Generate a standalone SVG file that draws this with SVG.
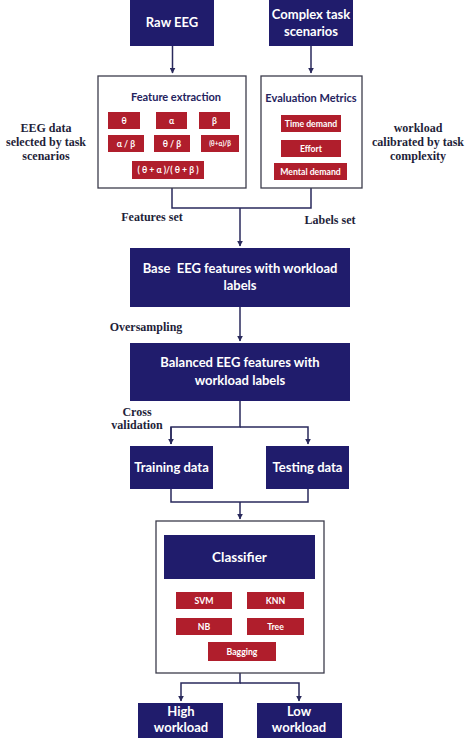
<svg xmlns="http://www.w3.org/2000/svg" width="474" height="744" viewBox="0 0 474 744">
<defs>
<marker id="ah" viewBox="0 0 10 10" refX="9" refY="5" markerWidth="6" markerHeight="6" orient="auto" markerUnits="userSpaceOnUse">
<path d="M0,0 L10,5 L0,10 z" fill="#2a2a5c"/>
</marker>
<style>
.navy{fill:#201c6c;}
.red{fill:#b01e2c;}
.frame{fill:#ffffff;stroke:#3c3c4c;stroke-width:1.3;}
.wt{font-family:Lato,"Open Sans",sans-serif;font-weight:700;fill:#ffffff;text-anchor:middle;white-space:pre;}
.big{font-size:13px;}
.sm{font-size:8.7px;}
.title{font-family:Lato,"Open Sans",sans-serif;font-weight:700;fill:#25235e;font-size:11px;text-anchor:middle;}
.side{font-family:"Liberation Serif",serif;font-weight:700;fill:#1f1f3a;font-size:12px;text-anchor:middle;}
.conn{fill:none;stroke:#2a2a5c;stroke-width:1.5;}
</style>
</defs>

<g id="connectors">
<path class="conn" d="M172.5,46 V73" marker-end="url(#ah)"/>
<path class="conn" d="M311,46 V73" marker-end="url(#ah)"/>
<path class="conn" d="M172,188 V208 H311 V188"/>
<path class="conn" d="M240,208 V246" marker-end="url(#ah)"/>
<path class="conn" d="M240,307 V341" marker-end="url(#ah)"/>
<path class="conn" d="M240,401 V427 H171 V444"/>
<path class="conn" d="M171,427 V444" marker-end="url(#ah)"/>
<path class="conn" d="M240,427 H308 V444" marker-end="url(#ah)"/>
<path class="conn" d="M171,489 V502 H308 V489"/>
<path class="conn" d="M240,502 V519" marker-end="url(#ah)"/>
<path class="conn" d="M240,673 V683 H181 V701" marker-end="url(#ah)"/>
<path class="conn" d="M240,683 H299 V701" marker-end="url(#ah)"/>
</g>

<g id="raw-eeg">
<rect class="navy" x="130" y="0" width="84" height="46"/>
<text class="wt big" x="172" y="27">Raw EEG</text>
</g>

<g id="complex-task">
<rect class="navy" x="269" y="0" width="84" height="46"/>
<text class="wt big" x="311" y="19">Complex task</text>
<text class="wt big" x="311" y="36">scenarios</text>
</g>

<g id="feature-extraction">
<rect class="frame" x="98" y="76" width="148" height="112"/>
<text class="title" x="176" y="101">Feature extraction</text>
<rect class="red" x="108" y="112" width="32" height="17"/>
<text class="wt sm" x="124" y="123.5">θ</text>
<rect class="red" x="156" y="112" width="31" height="17"/>
<text class="wt sm" x="171.5" y="123.5">α</text>
<rect class="red" x="199" y="112" width="31" height="17"/>
<text class="wt sm" x="214.5" y="123.5">β</text>
<rect class="red" x="108" y="135" width="36" height="17"/>
<text class="wt sm" x="126" y="146.5">α / β</text>
<rect class="red" x="154" y="135" width="36" height="17"/>
<text class="wt sm" x="172" y="146.5">θ / β</text>
<rect class="red" x="201" y="135" width="38" height="17"/>
<text class="wt" style="font-size:6.5px" x="220" y="146">(θ+α)/β</text>
<rect class="red" x="132" y="161" width="72" height="18"/>
<text class="wt sm" x="168" y="173">( θ + α )/( θ + β )</text>
</g>

<g id="evaluation-metrics">
<rect class="frame" x="261" y="76" width="101" height="112"/>
<text class="title" x="311" y="102">Evaluation Metrics</text>
<rect class="red" x="281" y="115" width="60" height="17"/>
<text class="wt sm" x="311" y="126.5">Time demand</text>
<rect class="red" x="281" y="140" width="60" height="17"/>
<text class="wt sm" x="311" y="151.5">Effort</text>
<rect class="red" x="274" y="163" width="73" height="17"/>
<text class="wt sm" x="310.5" y="174.5">Mental demand</text>
</g>

<g id="eeg-data-label">
<text class="side" x="46" y="132">EEG data</text>
<text class="side" x="46" y="146">selected by task</text>
<text class="side" x="46" y="160">scenarios</text>
</g>

<g id="workload-label">
<text class="side" x="418" y="132">workload</text>
<text class="side" x="418" y="146">calibrated by task</text>
<text class="side" x="418" y="160">complexity</text>
</g>

<g id="features-set-label">
<text class="side" x="152" y="221">Features set</text>
</g>
<g id="labels-set-label">
<text class="side" x="330" y="224">Labels set</text>
</g>

<g id="base-eeg">
<rect class="navy" x="130" y="248" width="220" height="59"/>
<text class="wt big" x="240" y="273" xml:space="preserve">Base  EEG features with workload</text>
<text class="wt big" x="240" y="290">labels</text>
</g>

<g id="oversampling-label">
<text class="side" x="146" y="331">Oversampling</text>
</g>

<g id="balanced-eeg">
<rect class="navy" x="130" y="343" width="220" height="58"/>
<text class="wt big" x="240" y="367">Balanced EEG features with</text>
<text class="wt big" x="240" y="385">workload labels</text>
</g>

<g id="cross-validation-label">
<text class="side" x="137" y="416">Cross</text>
<text class="side" x="137" y="429">validation</text>
</g>

<g id="training-data">
<rect class="navy" x="130" y="446" width="83" height="43"/>
<text class="wt big" x="171.5" y="472">Training data</text>
</g>

<g id="testing-data">
<rect class="navy" x="266" y="446" width="83" height="43"/>
<text class="wt big" x="307.5" y="472">Testing data</text>
</g>

<g id="classifier">
<rect class="frame" x="156" y="521" width="168" height="152"/>
<rect class="navy" x="164" y="535" width="151" height="44"/>
<text class="wt" style="font-size:13.5px" x="239.5" y="562">Classifier</text>
<rect class="red" x="176" y="592" width="56" height="17"/>
<text class="wt sm" x="204" y="603.5">SVM</text>
<rect class="red" x="247" y="592" width="57" height="17"/>
<text class="wt sm" x="275.5" y="603.5">KNN</text>
<rect class="red" x="176" y="618" width="56" height="17"/>
<text class="wt sm" x="204" y="629.5">NB</text>
<rect class="red" x="247" y="618" width="57" height="17"/>
<text class="wt sm" x="275.5" y="629.5">Tree</text>
<rect class="red" x="208" y="642" width="68" height="19"/>
<text class="wt sm" x="242" y="654.5">Bagging</text>
</g>

<g id="high-workload">
<rect class="navy" x="138" y="703" width="85" height="35"/>
<text class="wt big" x="181" y="716">High</text>
<text class="wt big" x="181" y="732">workload</text>
</g>

<g id="low-workload">
<rect class="navy" x="257" y="703" width="85" height="35"/>
<text class="wt big" x="299" y="716">Low</text>
<text class="wt big" x="299" y="732">workload</text>
</g>
</svg>
